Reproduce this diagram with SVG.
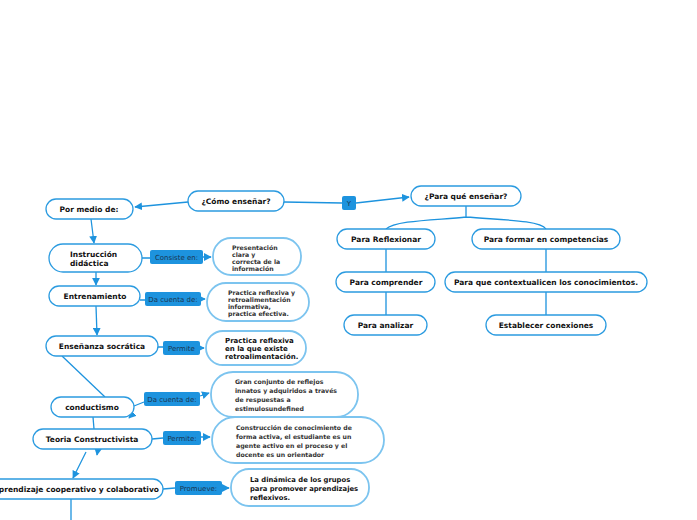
<svg xmlns="http://www.w3.org/2000/svg" width="697" height="520" viewBox="0 0 697 520">
<style>
.n rect{fill:#fff;stroke:#2b9be0;stroke-width:1.3}
.d rect{fill:#fff;stroke:#7cc4ef;stroke-width:1.8}
.l rect{fill:#1d93de;stroke:none}
text{font-family:"DejaVu Sans","Noto Sans",sans-serif;fill:#111}
.n text{font-size:7.5px;font-weight:bold;text-anchor:middle}
.d text{font-size:6.2px;font-weight:bold;fill:#333}
.l text{font-size:7px;text-anchor:middle;fill:#1a3550}
.c path{fill:none;stroke:#1d93de;stroke-width:1.3}
</style>
<defs><marker id="a" viewBox="0 0 10 10" refX="9" refY="5" markerWidth="6" markerHeight="6" orient="auto"><path d="M0,0L10,5L0,10z" fill="#1d93de"/></marker></defs>
<rect width="697" height="520" fill="#fff"/>
<g class="c">
<path d="M188,202L135,207" marker-end="url(#a)"/>
<path d="M284,202L342,203M356,203L409,197" marker-end="url(#a)"/>
<path d="M91,219L94,243" marker-end="url(#a)"/>
<path d="M96,272L96,285" marker-end="url(#a)"/>
<path d="M96,306L97,335" marker-end="url(#a)"/>
<path d="M142,258L150,258M203,257L211,257" marker-end="url(#a)"/>
<path d="M140,300L145,300M201,299L205,299" marker-end="url(#a)"/>
<path d="M158,347L163,347M200,348L204,348" marker-end="url(#a)"/>
<path d="M62,356L105,397"/>
<path d="M134,406L144,402M200,396L209,393" marker-end="url(#a)"/>
<path d="M93,417L94,429"/>
<path d="M130,417L129,418" marker-end="url(#a)"/>
<path d="M152,439L163,438M201,437L210,437" marker-end="url(#a)"/>
<path d="M98,449L97,455" marker-end="url(#a)"/>
<path d="M86,452L73,478" marker-end="url(#a)"/>
<path d="M163,489L175,488M222,488L229,488" marker-end="url(#a)"/>
<path d="M71,499L71,520"/>
<path d="M466,206L466,217C440,220 395,220 386,229M466,217C500,220 540,220 546,229"/>
<path d="M386,249L386,272M386,292L386,315M546,249L546,272M546,292L546,315"/>
</g>
<g id="como" class="n"><rect x="188" y="191" width="96" height="20" rx="10"/><text x="236" y="204">¿Cómo enseñar?</text></g>
<g id="pormedio" class="n"><rect x="46" y="199" width="87" height="20" rx="10"/><text x="89" y="212">Por medio de:</text></g>
<g id="instr" class="n"><rect x="49" y="244" width="93" height="28" rx="14"/><text x="70" y="257" style="text-anchor:start">Instrucción</text><text x="70" y="266" style="text-anchor:start">didáctica</text></g>
<g id="entr" class="n"><rect x="49" y="286" width="91" height="20" rx="10"/><text x="95" y="299">Entrenamiento</text></g>
<g id="socr" class="n"><rect x="46" y="336" width="112" height="20" rx="10"/><text x="102" y="349">Enseñanza socrática</text></g>
<g id="cond" class="n"><rect x="51" y="397" width="83" height="20" rx="10"/><text x="92" y="410">conductismo</text></g>
<g id="const" class="n"><rect x="33" y="429" width="119" height="20" rx="10"/><text x="92" y="442">Teoria Constructivista</text></g>
<g id="coop" class="n"><rect x="-10" y="479" width="173" height="20" rx="10"/><text x="76" y="492">Aprendizaje cooperativo y colaborativo</text></g>
<g id="l1" class="l"><rect x="150" y="250" width="53" height="14" rx="2"/><text x="176.5" y="260">Consiste en:</text></g>
<g id="l2" class="l"><rect x="145" y="292" width="56" height="14" rx="2"/><text x="173" y="302">Da cuenta de:</text></g>
<g id="l3" class="l"><rect x="163" y="341" width="37" height="14" rx="2"/><text x="181.5" y="351">Permite</text></g>
<g id="l4" class="l"><rect x="144" y="392" width="56" height="14" rx="2"/><text x="172" y="402">Da cuenta de:</text></g>
<g id="l5" class="l"><rect x="163" y="431" width="38" height="14" rx="2"/><text x="182" y="441">Permite:</text></g>
<g id="l6" class="l"><rect x="175" y="481" width="47" height="14" rx="2"/><text x="198.5" y="491">Promueve:</text></g>
<g id="ly" class="l"><rect x="342" y="196" width="14" height="14" rx="2"/><text x="349" y="206">Y</text></g>
<g id="d1" class="d"><rect x="213" y="238" width="88" height="37" rx="18"/><text x="232" y="250">Presentación</text><text x="232" y="257">clara y</text><text x="232" y="264">correcta de la</text><text x="232" y="271">información</text></g>
<g id="d2" class="d"><rect x="207" y="283" width="102" height="38" rx="19"/><text x="228" y="295">Practica reflexiva y</text><text x="228" y="302">retroalimentación</text><text x="228" y="309">informativa,</text><text x="228" y="316">practica efectiva.</text></g>
<g id="d3" class="d"><rect x="206" y="331" width="100" height="34" rx="17"/><text x="225" y="343" style="font-size:7px;fill:#111">Practica reflexiva</text><text x="225" y="351" style="font-size:7px;fill:#111">en la que existe</text><text x="225" y="359" style="font-size:7px;fill:#111">retroalimentación.</text></g>
<g id="d4" class="d"><rect x="211" y="372" width="147" height="45" rx="22"/><text x="235" y="384">Gran conjunto de reflejos</text><text x="235" y="393">innatos y adquiridos a través</text><text x="235" y="402">de respuestas a</text><text x="235" y="411">estimulosundefined</text></g>
<g id="d5" class="d"><rect x="212" y="417" width="172" height="46" rx="23"/><text x="236" y="430">Construcción de conocimiento de</text><text x="236" y="439">forma activa, el estudiante es un</text><text x="236" y="448">agente activo en el proceso y el</text><text x="236" y="457">docente es un orientador</text></g>
<g id="d6" class="d"><rect x="231" y="469" width="138" height="37" rx="18"/><text x="250" y="482" style="font-size:6.8px;fill:#111">La dinámica de los grupos</text><text x="250" y="491" style="font-size:6.8px;fill:#111">para promover aprendizajes</text><text x="250" y="500" style="font-size:6.8px;fill:#111">reflexivos.</text></g>
<g id="para" class="n"><rect x="411" y="186" width="110" height="20" rx="10"/><text x="466" y="199">¿Para qué enseñar?</text></g>
<g id="refl" class="n"><rect x="337" y="229" width="98" height="20" rx="10"/><text x="386" y="242">Para Reflexionar</text></g>
<g id="form" class="n"><rect x="472" y="229" width="148" height="20" rx="10"/><text x="546" y="242">Para formar en competencias</text></g>
<g id="comp" class="n"><rect x="336" y="272" width="99" height="20" rx="10"/><text x="386" y="285">Para comprender</text></g>
<g id="ctx" class="n"><rect x="445" y="272" width="202" height="20" rx="10"/><text x="546" y="285">Para que contextualicen los conocimientos.</text></g>
<g id="anal" class="n"><rect x="344" y="315" width="83" height="20" rx="10"/><text x="385.5" y="328">Para analizar</text></g>
<g id="est" class="n"><rect x="486" y="315" width="120" height="20" rx="10"/><text x="546" y="328">Establecer conexiones</text></g>
</svg>
